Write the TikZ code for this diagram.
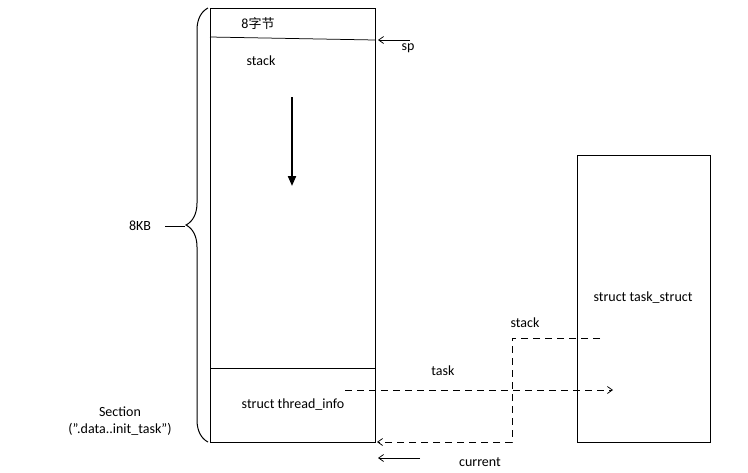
\documentclass[tikz,border=0pt]{standalone}
\usepackage{fontspec}
\setmainfont{Carlito}
\newfontfamily\cjk{Noto Sans CJK SC}
\usetikzlibrary{arrows.meta,decorations.pathreplacing}
\tikzset{every picture/.style={line width=0.75pt}}
\tikzset{lbl/.style={font=\fontsize{14}{17}\selectfont},
  dashline/.style={dash pattern=on 7pt off 5pt},
  tip/.style={-{Straight Barb[length=5pt,width=7pt]}}}
\begin{document}
\begin{tikzpicture}[x=1pt,y=1pt,yscale=-1,xscale=1]
\useasboundingbox (0,0) rectangle (748,472);

%Shape: Rectangle [id:stackarea]
\draw (210,8) rectangle (375,442);
\coordinate (sptop) at (375,40);
\coordinate (tiTop) at (375,368);
\draw (210,37) -- (sptop) ;
\draw (210,368) -- (tiTop) ;
%Shape: Rectangle [id:taskbox]
\draw (577,155) rectangle (710,442);

%Brace
\draw [line width=1pt,decorate,decoration={brace,amplitude=22pt,aspect=0.5}] (208,442) -- (208,8) ;
\draw (165,226) -- (185,226) ;

% Thick arrow
\coordinate (g1) at (292,97);
\coordinate (g2) at (292,186);
\draw [line width=2pt,-{Triangle[length=10pt,width=8pt]}] (g1) -- (g2) ;

% Text Node
\draw (258,24) node [lbl] (bytes) {8{\cjk\fontsize{13}{15}\selectfont 字节}};
\draw (261,61) node [lbl] (stk) {stack};
\draw (293,405) node [lbl] (thinfo) {struct thread\_info};
\draw (643,298) node [lbl] (tstruct) {struct task\_struct};
\draw (140,226) node [lbl] (kb) {8KB};
\draw (120,421) node [lbl,align=center] (sec) {Section\\(".data..init\_task")};
\draw (408,48) node [lbl] (sp) {sp};
\draw (443,371) node [lbl] (task) {task};
\draw (525,323) node [lbl] (stack2) {stack};
\draw (480,462) node [lbl] (cur) {current};

%Straight Lines [id:sparrow]
\coordinate (spstart) at (410,40);
\coordinate (spend) at (378,40);
\draw [tip] (spstart) -- (spend) ;
%Dashed [id:taskptr]
\coordinate (tk1) at (345,390);
\coordinate (tk2) at (613,390);
\draw [dashline,tip] (tk1) -- (tk2) ;
%Dashed [id:stackptr]
\coordinate (sk1) at (600,338);
\coordinate (sk2) at (512,338);
\coordinate (sk3) at (512,442);
\coordinate (sk4) at (377,442);
\draw [dashline,tip] (sk1) -- (sk2) -- (sk3) -- (sk4) ;
%Straight Lines [id:curarrow]
\coordinate (cu1) at (420,458);
\coordinate (cu2) at (378,458);
\draw [tip] (cu1) -- (cu2) ;

\end{tikzpicture}
\end{document}
